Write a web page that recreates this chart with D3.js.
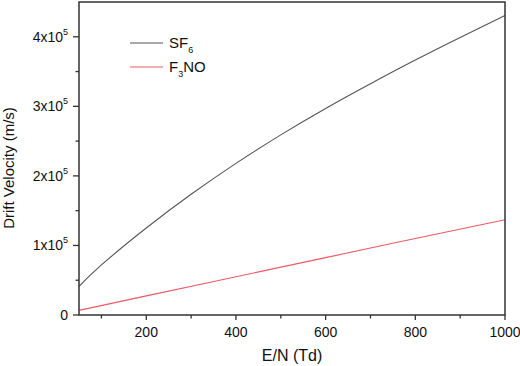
<!DOCTYPE html>
<html>
<head>
<meta charset="utf-8">
<script src="https://cdn.jsdelivr.net/npm/d3@7"></script>
<style>
  body { margin: 0; background: #fff; }
  svg { display: block; font-family: "Liberation Sans", Arial, sans-serif; }
</style>
</head>
<body>
<svg id="chart" width="520" height="366"></svg>
<script>
// E/N (Td) sample points
const enSF6 = [50, 100, 200, 300, 400, 500, 600, 700, 800, 900, 1000];
const vSF6 = [41000, 72000, 125000, 173500, 218000, 259000, 297000, 332500, 366500, 399000, 430500];
const enF3NO = [50, 200, 400, 600, 800, 1000];
const vF3NO = [6700, 27500, 55000, 82500, 110000, 137000];

const xMajor = [200, 400, 600, 800, 1000];
const xMinor = [100, 300, 500, 700, 900];
const yMajor = [0, 100000, 200000, 300000, 400000];
const yMinor = [50000, 150000, 250000, 350000];

const margin = {left: 79, right: 15, top: 2, bottom: 51};
const width = 520, height = 366;

const svg = d3.select("#chart");

const x = d3.scaleLinear()
    .domain([50, 1000])
    .range([margin.left, width - margin.right]);

const y = d3.scaleLinear()
    .domain([0, 450000])
    .range([height - margin.bottom, margin.top]);

const axisColor = "#333";

// x axis ticks (outward)
const gx = svg.append("g");
gx.selectAll("line.major")
    .data(xMajor)
    .join("line")
    .attr("class", "major")
    .attr("x1", d => x(d)).attr("x2", d => x(d))
    .attr("y1", y(0)).attr("y2", y(0) + 5)
    .attr("stroke", axisColor).attr("stroke-width", 1.3);
gx.selectAll("line.minor")
    .data(xMinor)
    .join("line")
    .attr("class", "minor")
    .attr("x1", d => x(d)).attr("x2", d => x(d))
    .attr("y1", y(0)).attr("y2", y(0) + 3.5)
    .attr("stroke", axisColor).attr("stroke-width", 1.3);
gx.selectAll("text")
    .data(xMajor)
    .join("text")
    .attr("x", d => x(d))
    .attr("y", 337)
    .attr("text-anchor", "middle")
    .attr("font-size", 14)
    .attr("fill", "#111")
    .text(d => d);

// y axis ticks (outward)
const gy = svg.append("g");
gy.selectAll("line.major")
    .data(yMajor)
    .join("line")
    .attr("class", "major")
    .attr("x1", margin.left - 6).attr("x2", margin.left)
    .attr("y1", d => y(d)).attr("y2", d => y(d))
    .attr("stroke", axisColor).attr("stroke-width", 1.3);
gy.selectAll("line.minor")
    .data(yMinor)
    .join("line")
    .attr("class", "minor")
    .attr("x1", margin.left - 3.5).attr("x2", margin.left)
    .attr("y1", d => y(d)).attr("y2", d => y(d))
    .attr("stroke", axisColor).attr("stroke-width", 1.3);

const ylab = gy.selectAll("text")
    .data(yMajor)
    .join("text")
    .attr("x", 68)
    .attr("y", d => y(d) + 5)
    .attr("text-anchor", "end")
    .attr("font-size", 14)
    .attr("fill", "#111");
ylab.each(function(d) {
  const t = d3.select(this);
  if (d === 0) { t.text("0"); return; }
  t.append("tspan").text((d / 100000) + "x10");
  t.append("tspan").attr("font-size", 9).attr("dy", -7).text("5");
});

// lines
const line = d3.line()
    .x(d => x(d[0]))
    .y(d => y(d[1]))
    .curve(d3.curveNatural);

svg.append("path")
    .datum(d3.zip(enSF6, vSF6))
    .attr("d", line)
    .attr("fill", "none")
    .attr("stroke", "#555")
    .attr("stroke-width", 1.1);

svg.append("path")
    .datum(d3.zip(enF3NO, vF3NO))
    .attr("d", line)
    .attr("fill", "none")
    .attr("stroke", "#eb5a64")
    .attr("stroke-width", 1.1);

// frame
svg.append("rect")
    .attr("x", margin.left)
    .attr("y", margin.top)
    .attr("width", width - margin.right - margin.left)
    .attr("height", height - margin.bottom - margin.top)
    .attr("fill", "none")
    .attr("stroke", axisColor)
    .attr("stroke-width", 1.5);

// axis titles
svg.append("text")
    .attr("x", x(525))
    .attr("y", 361)
    .attr("text-anchor", "middle")
    .attr("font-size", 16)
    .attr("fill", "#111")
    .text("E/N (Td)");

svg.append("text")
    .attr("transform", "translate(14,168) rotate(-90)")
    .attr("text-anchor", "middle")
    .attr("font-size", 15)
    .attr("fill", "#111")
    .text("Drift Velocity (m/s)");

// legend
const legend = [
  {color: "#555", parts: [["SF", 0], ["6", 1]]},
  {color: "#eb5a64", parts: [["F", 0], ["3", 1], ["NO", 0]]}
];
const lg = svg.append("g")
    .selectAll("g")
    .data(legend)
    .join("g")
    .attr("transform", (d, i) => `translate(130,${43 + i * 24})`);
lg.append("line")
    .attr("x1", 0).attr("x2", 33)
    .attr("stroke", d => d.color)
    .attr("stroke-width", 1.1);
lg.append("text")
    .attr("x", 39)
    .attr("y", 5)
    .attr("font-size", 15)
    .attr("fill", "#111")
    .each(function(d) {
      const t = d3.select(this);
      let sub = false;
      d.parts.forEach(p => {
        const ts = t.append("tspan").text(p[0]);
        if (p[1] && !sub) { ts.attr("font-size", 9).attr("dy", 5); sub = true; }
        else if (!p[1] && sub) { ts.attr("dy", -5); sub = false; }
      });
    });
</script>
</body>
</html>
